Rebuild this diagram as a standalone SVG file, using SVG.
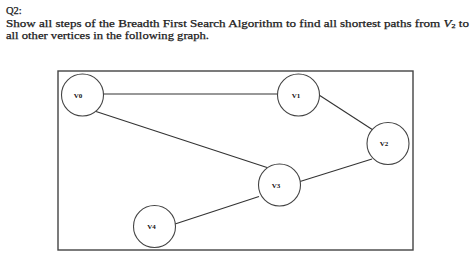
<svg xmlns="http://www.w3.org/2000/svg" width="474" height="258" viewBox="0 0 474 258">
<style>
.hd{font-family:"Liberation Serif","DejaVu Serif",serif;font-size:10.5px;fill:#1a1a1a;stroke:#1a1a1a;stroke-width:0.25}
.nd circle{fill:#fff;stroke:#444;stroke-width:1.1}
.lb{font-family:"Liberation Serif",serif;font-size:7px;font-weight:bold;fill:#111;text-anchor:middle}
.ed line{stroke:#333;stroke-width:1.1}
</style>
<rect width="474" height="258" fill="#fff"/>
<text class="hd" x="6" y="14" font-size="10">Q2:</text>
<text class="hd" x="6" y="26.5" textLength="463" lengthAdjust="spacingAndGlyphs">Show all steps of the Breadth First Search Algorithm to find all shortest paths from <tspan font-style="italic">V</tspan><tspan font-size="6.5" dy="1.5">2</tspan><tspan dy="-1.5"> to</tspan></text>
<text class="hd" x="6" y="38.5" textLength="203" lengthAdjust="spacingAndGlyphs">all other vertices in the following graph.</text>
<rect x="58" y="71" width="355" height="179" fill="none" stroke="#444" stroke-width="1.4"/>
<g id="connectors" class="ed">
<line x1="103" y1="94" x2="277" y2="94"/>
<line x1="319" y1="95" x2="373" y2="130"/>
<line x1="96" y1="111.5" x2="267" y2="167.5"/>
<line x1="300" y1="181.5" x2="372" y2="159"/>
<line x1="259" y1="196.5" x2="175" y2="224"/>
</g>
<g id="V0" class="nd"><circle cx="82.5" cy="95" r="21"/><text class="lb" x="78" y="97.5">V0</text></g>
<g id="V1" class="nd"><circle cx="298.5" cy="95" r="21"/><text class="lb" x="296" y="97.5">V1</text></g>
<g id="V2" class="nd"><circle cx="388" cy="143.5" r="21"/><text class="lb" x="384" y="146">V2</text></g>
<g id="V3" class="nd"><circle cx="279.5" cy="185" r="21"/><text class="lb" x="276" y="188">V3</text></g>
<g id="V4" class="nd"><circle cx="154.5" cy="226.5" r="21"/><text class="lb" x="151.5" y="229">V4</text></g>
</svg>
